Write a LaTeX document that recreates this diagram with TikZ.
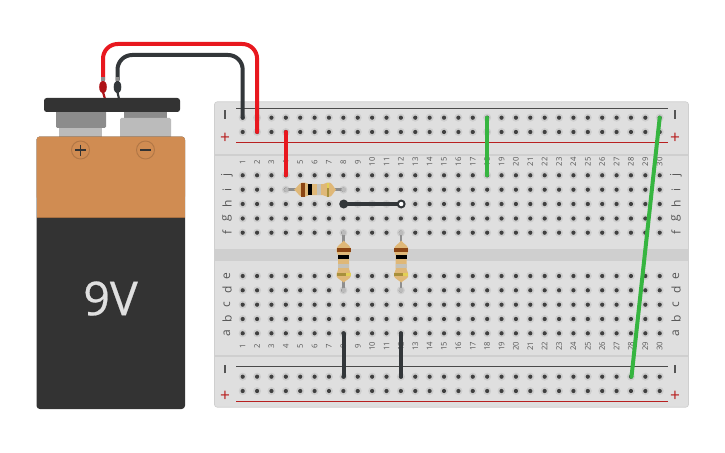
\documentclass[tikz,border=0pt]{standalone}
\usepackage{fontspec}
\setmainfont{Open Sans}
\newfontfamily\voltfont[FakeBold=0.5]{Open Sans}
\definecolor{board}{HTML}{DFDFDF}
\definecolor{boardedge}{HTML}{CFCFCF}
\definecolor{channel}{HTML}{CFCFCF}
\definecolor{halo}{HTML}{CDCDCD}
\definecolor{hole}{HTML}{404040}
\definecolor{railred}{HTML}{B82020}
\definecolor{railblk}{HTML}{4A4A4A}
\definecolor{wred}{HTML}{E8181F}
\definecolor{wblk}{HTML}{33373A}
\definecolor{wgreen}{HTML}{36B540}
\definecolor{batorange}{HTML}{D08C52}
\definecolor{batdark}{HTML}{333333}
\definecolor{batgrey}{HTML}{8C8C8C}
\definecolor{batlight}{HTML}{BBBBBB}
\definecolor{resbody}{HTML}{DFB878}
\definecolor{resleg}{HTML}{8E8E8E}
\definecolor{bandbrown}{HTML}{8B4513}
\definecolor{bandgrey}{HTML}{C4C2BA}
\definecolor{bandgold}{HTML}{A8903C}
\definecolor{bandyellow}{HTML}{E2CF55}
\definecolor{txt}{HTML}{555555}
\tikzset{
  x=0.75pt,y=-0.75pt,
  wire/.style={line width=3pt,line cap=round,line join=round},
  collabel/.style={font=\fontsize{5.8pt}{6.5pt}\selectfont,text=txt,rotate=90,inner sep=0pt},
  rowlabel/.style={font=\fontsize{9pt}{10pt}\selectfont,text=txt,rotate=90,inner sep=0pt},
  redsign/.style={font=\fontsize{13pt}{14pt}\selectfont,text=railred,inner sep=0pt},
  blksign/.style={text=txt,inner sep=0pt},
  batsign/.style={circle,draw=black!15!batorange,line width=0.7pt,minimum size=13.5pt,inner sep=0pt},
}
\newcommand{\holeat}[2]{%
  \fill[halo] (#1,#2) circle (4);
  \fill[hole] (#1,#2) circle (2.1);}
% resistor, drawn along +x from its centre, in a scope
\newcommand{\resistorbody}{%
  \draw[resleg,line width=1.9pt,line cap=round] (-28.7,0) -- (28.7,0);
  \fill[resleg!60!white] (-28.7,0) circle (2.4);
  \fill[resleg!60!white] (28.7,0) circle (2.4);
  \fill[resbody] (-21,0) .. controls (-18,-2) and (-16,-6.5) .. (-13,-7)
     -- (-10,-7) .. controls (-8,-5.5) .. (-6,-5.5) -- (8,-5.5) .. controls (10,-5.5) .. (12,-7)
     -- (15,-7) .. controls (17,-6.5) and (19,-2) .. (21,0)
     .. controls (19,2) and (17,6.5) .. (15,7) -- (12,7) .. controls (10,5.5) .. (8,5.5)
     -- (-6,5.5) .. controls (-8,5.5) .. (-10,7) -- (-13,7) .. controls (-16,6.5) and (-18,2) .. (-21,0) -- cycle;
  \fill[bandbrown] (-14,-7) rectangle (-10,7);
  \fill[black] (-7,-5.5) rectangle (-3,5.5);
  \fill[bandgrey] (2,-5.5) rectangle (6,5.5);
  \fill[bandgold] (11.5,-7) rectangle (14,7);
  \fill[bandyellow] (11.5,-7) rectangle (14,-2);}
\begin{document}
\begin{tikzpicture}
\useasboundingbox (0,0) rectangle (725,453);
% ---- breadboard
\node[draw=boardedge,fill=board,rounded corners=2pt,line width=0.5pt,minimum width=355.5pt,minimum height=229pt,inner sep=0pt] (board) at (451.5,254.5) {};
\fill[channel] (214.5,249) rectangle (688.5,261);
\draw[boardedge,line width=0.8pt] (214.5,155) -- (688.5,155) (214.5,356) -- (688.5,356);
% rail lines
\coordinate (tbl) at (236,108.5); \coordinate (tbr) at (668,108.5);
\coordinate (trl) at (236,142.5); \coordinate (trr) at (668,142.5);
\coordinate (bbl) at (236,366.5); \coordinate (bbr) at (668,366.5);
\coordinate (brl) at (236,401.5); \coordinate (brr) at (668,401.5);
\draw[railblk,line width=1pt] (tbl) -- (tbr) (bbl) -- (bbr);
\draw[railred,line width=1pt] (trl) -- (trr) (brl) -- (brr);
% signs
\foreach \yy/\xs in {114.5/225,114.5/675,369/225,369/675}
  \node[blksign] at (\xs,\yy) {\rule{0.8pt}{6.5pt}};
\foreach \yy/\xs in {138.5/225,138.5/675,396/225,396/675}
  \node[redsign] at (\xs,\yy) {+};
% holes
\foreach \c in {0,...,29}{
  \pgfmathsetmacro{\xx}{242.7+14.38*\c}
  \foreach \yy in {117.7,132,175.3,189.7,204,218.5,232.7,276,290.3,304.7,319,333.3,376.7,391}
    {\holeat{\xx}{\yy}}
  \pgfmathtruncatemacro{\lab}{\c+1}
  \node[collabel] at (\xx,162) {\lab};
  \node[collabel] at (\xx,346) {\lab};
}
% row letters
\foreach \yy/\l in {175.3/j,189.7/i,204/h,218.5/g,232.7/f,276/e,290.3/d,304.7/c,319/b,333.3/a}{
  \node[rowlabel] at (227,\yy) {\l};
  \node[rowlabel] at (676,\yy) {\l};
}
% ---- battery
\fill[batgrey,rounded corners=1pt] (56,110) rectangle (106,128);
\fill[batlight] (59,128) rectangle (102,138);
\fill[batgrey] (124,110) rectangle (167,119);
\fill[batlight,rounded corners=1pt] (120,118) rectangle (171,138);
\fill[batdark,rounded corners=2.5pt] (36.5,136.5) rectangle (185,409);
\fill[batorange,rounded corners=2.5pt] (36.5,136.5) rectangle (185,200);
\fill[batorange] (36.5,145) rectangle (185,217);
\draw[black!20!batorange,line width=0.5pt] (36.5,217.3) -- (185,217.3);
\node[batsign] (plus) at (80.5,150) {};
\node[batsign] (minus) at (145.5,150) {};
\draw[batdark,line width=1.1pt] (75,150) -- (86,150) (80.5,144.5) -- (80.5,155.5);
\draw[batdark,line width=1.1pt] (140,150) -- (151,150);
\coordinate (clipR) at (103,92);
\coordinate (clipB) at (117.5,92);
\draw[line width=1.6pt,color=wred!75!black] (clipR) -- (105,99);
\draw[line width=1.6pt,color=wblk] (clipB) -- (119,99);
\fill[batdark,rounded corners=2pt] (44,98) rectangle (180,112);
\node[font=\voltfont\fontsize{35pt}{40pt}\selectfont,text=white!88!black,inner sep=0pt] (volt) at (110.5,298.5) {9V};
% ---- wires to battery
\coordinate (h2top) at (257.1,132);
\coordinate (h1top) at (242.7,117.7);
\draw[wire,wred,rounded corners=11pt] (103,80) -- (103,44) -- (257.1,44) -- (h2top);
\draw[wire,wblk,rounded corners=11pt] (117.5,80) -- (117.5,55) -- (242.7,55) -- (h1top);
\fill[wred!75!black] (103,87) ellipse (3.8 and 6.5);
\fill[wblk] (117.5,87) ellipse (3.8 and 6.5);
\fill[batgrey] (101.3,77) rectangle (104.7,81);
\fill[batgrey] (115.8,77) rectangle (119.2,81);
% ---- resistors
\begin{scope}[shift={(315,189.7)}]\resistorbody\end{scope}
\begin{scope}[shift={(343.7,261.5)},rotate=-90]\resistorbody\end{scope}
\begin{scope}[shift={(401.2,261.5)},rotate=-90]\resistorbody\end{scope}
% ---- jumpers
\coordinate (a1) at (286,132); \coordinate (a2) at (286,175.3);
\coordinate (b1) at (487.2,117.7); \coordinate (b2) at (487.2,175.3);
\coordinate (c1) at (659.7,117.7); \coordinate (c2) at (631.5,376.7);
\coordinate (d1) at (343.7,333.3); \coordinate (d2) at (343.7,376.7);
\coordinate (e1) at (401.2,333.3); \coordinate (e2) at (401.2,376.7);
\coordinate (f1) at (343.7,204); \coordinate (f2) at (401.2,204);
\draw[wire,wred] (a1) -- (a2);
\draw[wire,wgreen] (b1) -- (b2);
\draw[wire,wgreen] (c1) -- (c2);
\draw[wire,wblk] (d1) -- (d2);
\draw[wire,wblk] (e1) -- (e2);
\draw[wire,wblk] (f1) -- (f2);
\fill[wblk] (f1) circle (4.5);
\fill[wblk] (f2) circle (4.5);
\fill[white] (f2) circle (2.2);
\end{tikzpicture}
\end{document}
